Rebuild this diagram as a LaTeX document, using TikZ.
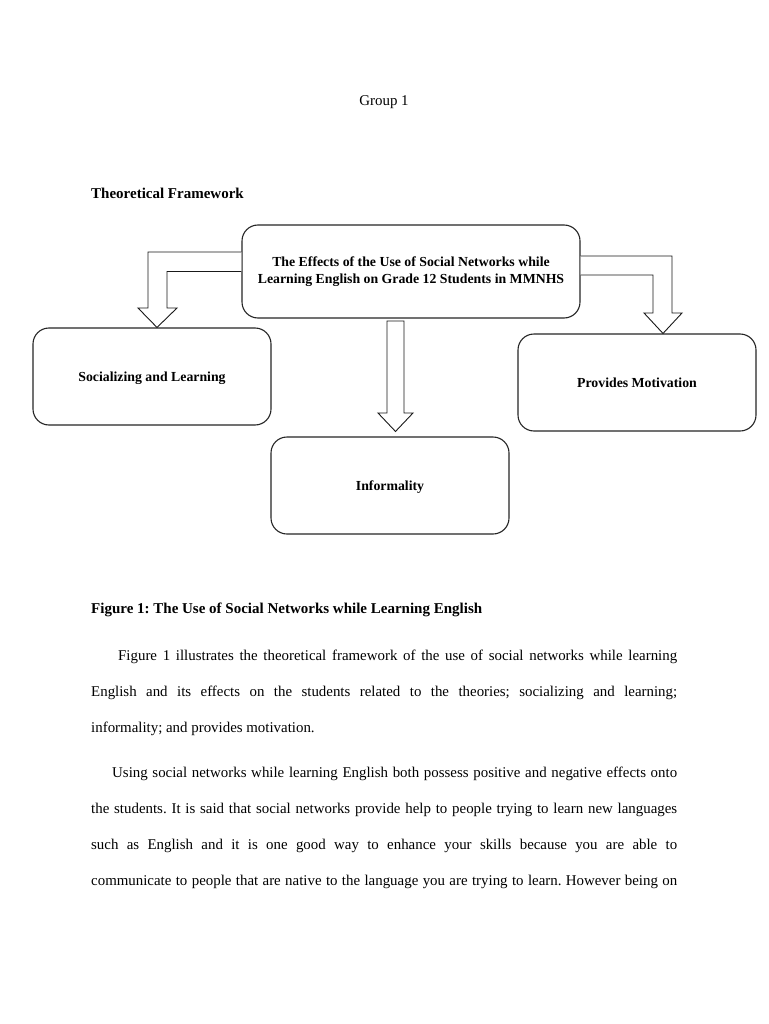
\documentclass[tikz,border=0pt]{standalone}
\usepackage{fontspec}
\setmainfont{Liberation Serif}
\begin{document}
\frenchspacing
\begin{tikzpicture}[x=1pt,y=-1pt,
  box/.style={draw=black!85, line width=1.1pt, rounded corners=16pt, minimum width=238pt, minimum height=97pt, align=center, font=\bfseries\fontsize{13.8}{17}\selectfont, inner sep=0pt},
  onebox/.style={box, text depth=0pt},
  blockarrow/.style={draw=black!90, line width=0.9pt, fill=white, line join=miter},
  bodytxt/.style={anchor=base west, inner sep=0pt, font=\fontsize{14.9}{18}\selectfont},
  boldtxt/.style={anchor=base west, inner sep=0pt, font=\bfseries\fontsize{15}{18}\selectfont}
]
\useasboundingbox (0,0) rectangle (768,1024);
\fill[white] (0,0) rectangle (768,1024);

\node[anchor=base, inner sep=0pt, font=\fontsize{14.9}{18}\selectfont] (grp) at (384,106) {Group 1};
\node[boldtxt] (tf) at (91,199) {Theoretical Framework};

\node[box, minimum width=338pt, minimum height=93pt] (top) at (411,271.5)
  {The Effects of the Use of Social Networks while\\Learning English on Grade 12 Students in MMNHS};
\node[onebox] (soc) at (152,376.5) {Socializing and Learning};
\node[onebox] (mot) at (637,382.5) {Provides Motivation};
\node[onebox] (inf) at (390,485.5) {Informality};

% left block arrow
\draw[blockarrow] ([yshift=19.5pt]top.west) -- (148,252) -- (148,308) -- (138,308)
  -- ([xshift=5pt]soc.north) -- (177,308) -- (167,308) -- (167,271.5) -- (top.west);
% right block arrow
\draw[blockarrow] ([yshift=15.5pt]top.east) -- (672,256) -- (672,313) -- (682,313)
  -- ([xshift=26pt]mot.north) -- (644,313) -- (653,313) -- (653,275) -- ([yshift=-3.5pt]top.east);
% middle block arrow
\coordinate (mtip) at ([xshift=5.5pt,yshift=5pt]inf.north);
\draw[blockarrow] (387,321) -- (404,321) -- (404,413) -- (413,413) -- (mtip)
  -- (378,413) -- (387,413) -- cycle;

\node[boldtxt] (cap) at (91,613) {Figure 1: The Use of Social Networks while Learning English};

\node[bodytxt] (p1a) at (118,660) {\makebox[559pt][s]{Figure 1 illustrates the theoretical framework of the use of social networks while learning}};
\node[bodytxt] (p1b) at (91,696) {\makebox[586pt][s]{English and its effects on the students related to the theories; socializing and learning;}};
\node[bodytxt] (p1c) at (91,732) {informality; and provides motivation.};

\node[bodytxt] (p2a) at (112,777) {\makebox[565pt][s]{Using social networks while learning English both possess positive and negative effects onto}};
\node[bodytxt] (p2b) at (91,813) {\makebox[586pt][s]{the students. It is said that social networks provide help to people trying to learn new languages}};
\node[bodytxt] (p2c) at (91,849) {\makebox[586pt][s]{such as English and it is one good way to enhance your skills because you are able to}};
\node[bodytxt] (p2d) at (91,885) {\makebox[586pt][s]{communicate to people that are native to the language you are trying to learn. However being on}};
\end{tikzpicture}
\end{document}
